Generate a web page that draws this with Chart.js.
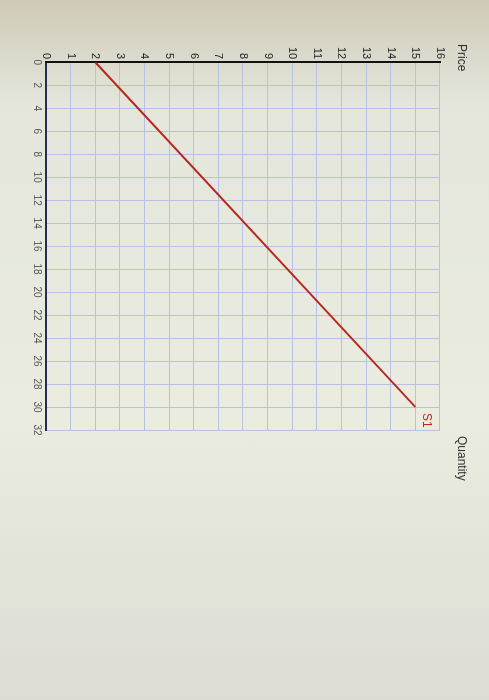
<!DOCTYPE html>
<html>
<head>
<meta charset="utf-8">
<script src="https://cdn.jsdelivr.net/npm/chart.js@4/dist/chart.umd.min.js"></script>
<style>
  body { margin: 0; width: 489px; height: 700px; background: linear-gradient(180deg, #cfcab8 0%, #e4e6dc 15%, #e9ecde 60%, #dcdcd4 100%); overflow: hidden; }
  #wrap { position: absolute; left: 478px; top: 40px; width: 450px; height: 450px; transform-origin: 0 0; transform: rotate(90deg); }
</style>
</head>
<body>
<div id="wrap"><canvas id="myChart" width="450" height="450"></canvas></div>
<script>
// значения с картинки
const quantity = [0, 30]
const price = [2, 15]
const seriesName = 'S1'

const points = quantity.map((q, i) => ({ x: q, y: price[i] }))

// подписи осей и серии
const titles = {
  id: 'titles',
  afterDraw(chart) {
    const ctx = chart.ctx
    const a = chart.chartArea
    ctx.save()
    ctx.font = '12px "Liberation Sans", Arial'
    ctx.fillStyle = '#333'
    ctx.textAlign = 'left'
    ctx.fillText('Price', 4, a.top - 18)
    ctx.fillText('Quantity', a.right + 6, a.top - 18)
    const last = chart.getDatasetMeta(0).data[1]
    ctx.fillStyle = '#c0281e'
    ctx.fillText(seriesName, last.x + 6, last.y - 8)
    ctx.restore()
  }
}

new Chart(document.getElementById('myChart'), {
  type: 'scatter',
  data: {
    datasets: [{
      label: seriesName,
      data: points,
      showLine: true,
      borderColor: '#b8261c',
      borderWidth: 2,
      pointRadius: 0
    }]
  },
  options: {
    responsive: false,
    animation: false,
    layout: { padding: { top: 38, right: 60, left: 4, bottom: 0 } },
    plugins: { legend: { display: false }, tooltip: { enabled: false } },
    scales: {
      x: {
        type: 'linear', min: 0, max: 32,
        ticks: { stepSize: 2, autoSkip: false, maxRotation: 0, color: '#555', font: { size: 10 } },
        grid: { color: '#b9c0e2', drawTicks: false },
        border: { color: '#2a2a55', width: 2 }
      },
      y: {
        type: 'linear', min: 0, max: 16,
        ticks: { stepSize: 1, autoSkip: false, color: '#222', font: { size: 11 } },
        grid: { color: '#b9c0e2', drawTicks: false },
        border: { color: '#111', width: 2 }
      }
    }
  },
  plugins: [titles]
})
</script>
</body>
</html>
